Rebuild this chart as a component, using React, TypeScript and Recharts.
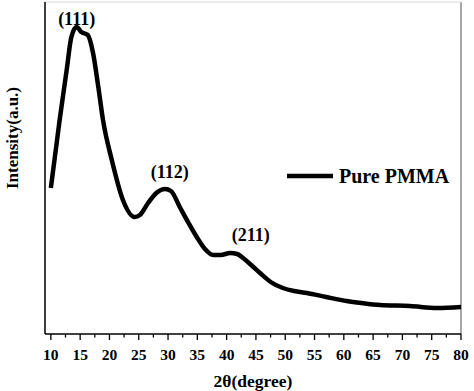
import {
  Legend,
  Line,
  LineChart,
  ReferenceDot,
  ReferenceLine,
  XAxis,
  YAxis,
} from "recharts";

// 2θ (degree) and intensity (a.u.)
const twoTheta = [
  10, 11.5, 12.7, 13.5, 14.4, 15.2, 16.3, 17.2, 18.1, 18.9, 20.4, 22.3, 24.3,
  25.2, 26.6, 28.0, 29.5, 30.5, 32.0, 33.5, 34.9, 36.3, 37.7, 39.0, 40.6, 41.8,
  42.8, 44.2, 45.7, 47.5, 49.6, 51.5, 53.7, 57.0, 60.5, 63.0, 66.2, 71.3, 75.9,
  80,
];
const intensity = [
  146, 214, 264, 297, 307, 302, 299, 281, 247, 214, 174, 134, 117, 119, 131,
  141, 145, 143, 127, 111, 97, 85, 79, 79, 81, 80, 76, 69, 61, 52, 46, 43, 41,
  37, 33, 31, 29, 28, 26, 27,
];

const peakLabels = [
  { x: 14.4, y: 315, text: "(111)" },
  { x: 30.3, y: 162, text: "(112)" },
  { x: 44.1, y: 99, text: "(211)" },
];

const xTicks = [
  10, 12.5, 15, 17.5, 20, 22.5, 25, 27.5, 30, 32.5, 35, 37.5, 40, 42.5, 45,
  47.5, 50, 52.5, 55, 57.5, 60, 62.5, 65, 67.5, 70, 72.5, 75, 77.5, 80,
];

const data = twoTheta.map((t, i) => ({ t, v: intensity[i] }));

const FONT = '"Liberation Serif", "Times New Roman", serif';

const XTick = (props: any) => {
  const { x, y, payload } = props;
  const major = payload.value % 5 === 0;
  return (
    <g>
      <line x1={x} x2={x} y1={y} y2={y + (major ? 6 : 3.5)} stroke="#000" strokeWidth={1.3} />
      {major && (
        <text
          x={x}
          y={y + 26}
          textAnchor="middle"
          fontFamily={FONT}
          fontWeight="bold"
          fontSize={15.5}
          fill="#000"
        >
          {payload.value}
        </text>
      )}
    </g>
  );
};

const LegendContent = (props: any) => {
  const item = props.payload && props.payload[0];
  return (
    <svg width={180} height={26}>
      <line x1={2} x2={48} y1={13} y2={13} stroke="#000" strokeWidth={4.5} />
      <text
        x={54}
        y={19.5}
        fontFamily={FONT}
        fontWeight="bold"
        fontSize={20}
        fill="#000"
      >
        {item ? item.value : "Pure PMMA"}
      </text>
    </svg>
  );
};

export default function App() {
  return (
    <div style={{ position: "absolute", left: 0, top: 0, background: "#fff" }}>
      <LineChart
        width={474}
        height={391}
        data={data}
        margin={{ top: 2, right: 13, bottom: 0, left: 0 }}
      >
        <XAxis
          dataKey="t"
          type="number"
          domain={[9, 80]}
          ticks={xTicks}
          interval={0}
          height={57}
          tickSize={0}
          tickMargin={0}
          tickLine={false}
          tick={<XTick />}
          axisLine={{ stroke: "#000", strokeWidth: 1.5 }}
          label={{
            value: "2θ(degree)",
            position: "insideBottom",
            offset: 4,
            style: {
              fontFamily: FONT,
              fontWeight: "bold",
              fontSize: 17.5,
              fill: "#000",
            },
          }}
        />
        <YAxis
          type="number"
          domain={[0, 332]}
          width={45}
          tick={false}
          tickLine={false}
          axisLine={{ stroke: "#000", strokeWidth: 1.5 }}
          label={{
            value: "Intensity(a.u.)",
            angle: -90,
            position: "insideLeft",
            offset: 12,
            dy: -30,
            style: {
              fontFamily: FONT,
              fontWeight: "bold",
              fontSize: 17,
              fill: "#000",
              textAnchor: "middle",
            },
          }}
        />
        <ReferenceLine x={80} stroke="#888" strokeWidth={1.5} />
        <ReferenceLine y={332} stroke="#e4e4e4" strokeWidth={1.5} />
        {peakLabels.map((p) => (
          <ReferenceDot
            key={p.text}
            x={p.x}
            y={p.y}
            r={0}
            fill="none"
            stroke="none"
            label={{
              value: p.text,
              position: "center",
              style: {
                fontFamily: FONT,
                fontWeight: "bold",
                fontSize: 18,
                fill: "#000",
              },
            }}
          />
        ))}
        <Line
          type="monotone"
          dataKey="v"
          name="Pure PMMA"
          stroke="#000"
          strokeWidth={4.5}
          dot={false}
          isAnimationActive={false}
        />
        <Legend
          layout="horizontal"
          align="center"
          verticalAlign="middle"
          content={<LegendContent />}
          wrapperStyle={{ position: "absolute", left: 285, top: 163, width: 180, height: 26 }}
        />
      </LineChart>
    </div>
  );
}
